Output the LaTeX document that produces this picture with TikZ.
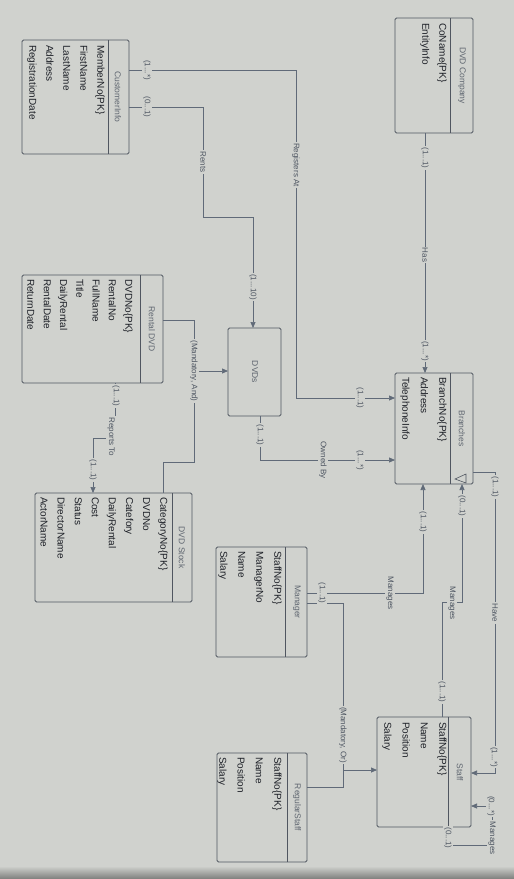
\documentclass[tikz,border=0pt]{standalone}
\usepackage{fontspec}
\setmainfont{Liberation Sans}
\usetikzlibrary{arrows.meta}
\definecolor{bg}{RGB}{208,210,206}
\definecolor{boxc}{RGB}{80,86,96}
\definecolor{linec}{RGB}{96,106,120}
\definecolor{txt}{RGB}{30,33,40}
\definecolor{hdr}{RGB}{95,102,112}
\definecolor{lbl}{RGB}{78,86,98}
\begin{document}
\begin{tikzpicture}[x=1pt,y=-1pt,
  ent/.style={draw=boxc,line width=0.8pt,rounded corners=1.5pt,anchor=north west,inner sep=0pt,outer sep=0pt},
  attr/.style={rotate=-90,anchor=west,inner sep=0pt,text=txt,font=\fontsize{10}{12}\selectfont,text height=7.5pt,text depth=2pt},
  hd/.style={rotate=-90,inner sep=0pt,text=hdr,font=\fontsize{8.5}{10}\selectfont},
  lab/.style={rotate=-90,fill=bg,inner sep=1.2pt,text=lbl,font=\fontsize{8}{9}\selectfont},
  conn/.style={draw=linec,line width=0.7pt},
  arr/.style={conn,-{Triangle[length=6pt,width=5pt]}},
  div/.style={draw=boxc,line width=0.7pt}
]
\useasboundingbox (0,0) rectangle (514,879);
\fill[bg] (0,0) rectangle (514,879);
\shade[top color=bg,bottom color=bg!60!black] (0,866) rectangle (514,879);

% ---------- entities ----------
\node[ent,minimum width=78pt,minimum height=115pt] (company) at (395,18) {};
\draw[div] (company.north -| 450,0) -- (company.south -| 450,0);
\node[hd] (company-h) at (462,75.5) {DVD Company};
\foreach \t [count=\i from 0] in {CoName\{PK\},EntityInfo}
  \node[attr] (company-a\i) at ({442-17*\i},23) {\t};

\node[ent,minimum width=78pt,minimum height=111pt] (branch) at (395,373) {};
\draw[div] (branch.north -| 450,0) -- (branch.south -| 450,0);
\node[hd] (branch-h) at (462,428.5) {Branches};
\foreach \t [count=\i from 0] in {BranchNo\{PK\},Address,TelephoneInfo}
  \node[attr] (branch-a\i) at ({442-18.5*\i},377) {\t};
\draw[boxc,line width=0.6pt] (455,479) -- (466,474) -- (466,483) -- cycle;

\node[ent,minimum width=94pt,minimum height=110pt] (staff) at (377,717) {};
\draw[div] (staff.north -| 448,0) -- (staff.south -| 448,0);
\node[hd] (staff-h) at (460,772) {Staff};
\foreach \t [count=\i from 0] in {StaffNo\{PK\},Name,Position,Salary}
  \node[attr] (staff-a\i) at ({442-18.3*\i},722) {\t};

\node[ent,minimum width=91pt,minimum height=110pt] (manager) at (216,547) {};
\draw[div] (manager.north -| 285,0) -- (manager.south -| 285,0);
\node[hd] (manager-h) at (297,602) {Manager};
\foreach \t [count=\i from 0] in {StaffNo\{PK\},ManagerNo,Name,Salary}
  \node[attr] (manager-a\i) at ({277-18*\i},551) {\t};

\node[ent,minimum width=90pt,minimum height=109pt] (regular) at (217,753) {};
\draw[div] (regular.north -| 287,0) -- (regular.south -| 287,0);
\node[hd] (regular-h) at (297,807.5) {RegularStaff};
\foreach \t [count=\i from 0] in {StaffNo\{PK\},Name,Position,Salary}
  \node[attr] (regular-a\i) at ({277-18.3*\i},757) {\t};

\node[ent,minimum width=53pt,minimum height=88pt] (dvds) at (228,328) {};
\node[hd] (dvds-h) at (255,372) {DVDs};

\node[ent,minimum width=107pt,minimum height=114pt] (customer) at (22,40) {};
\draw[div] (customer.north -| 108,0) -- (customer.south -| 108,0);
\node[hd] (customer-h) at (118,97) {CustomerInfo};
\foreach \t [count=\i from 0] in {MemberNo\{PK\},FirstName,LastName,Address,RegistrationDate}
  \node[attr] (customer-a\i) at ({100-17*\i},45) {\t};

\node[ent,minimum width=141pt,minimum height=108pt] (rental) at (22,275) {};
\draw[div] (rental.north -| 140,0) -- (rental.south -| 140,0);
\node[hd] (rental-h) at (152,329) {Rental DVD};
\foreach \t [count=\i from 0] in {DVDNo\{PK\},RentalNo,FullName,Title,DailyRental,RentalDate,ReturnDate}
  \node[attr] (rental-a\i) at ({128-16.3*\i},279) {\t};

\node[ent,minimum width=157pt,minimum height=109pt] (stock) at (35,493) {};
\draw[div] (stock.north -| 172,0) -- (stock.south -| 172,0);
\node[hd] (stock-h) at (182,547.5) {DVD Stock};
\foreach \t [count=\i from 0] in {CategoryNo\{PK\},DVDNo,Catefory,DailyRental,Cost,Status,DirectorName,ActorName}
  \node[attr] (stock-a\i) at ({163-17.1*\i},497) {\t};

% ---------- connectors ----------
% Has
\draw[arr] (company.south -| 425,0) -- (branch.north -| 425,0);
% Registers At
\draw[arr] (customer.east |- 0,70) -| (296,398) -- (branch.west |- 0,398);
% Rents
\draw[arr] (customer.east |- 0,107) -| (203,217) -| (dvds.north -| 253,0);
% Owned By
\draw[arr] (dvds.south -| 260,0) |- (branch.west |- 0,460);
% Mandatory, And
\draw[conn] (rental.east |- 0,320) -| (194,462) -| (stock.north -| 163,0);
\coordinate (mand) at (194,371);
\draw[arr] (mand) -- (dvds.west |- mand);
% Reports To
\draw[arr] (rental.south -| 115,0) |- (93,438) -- (stock.north -| 93,0);
% Manages (Manager - Branches)
\draw[arr] (manager.east |- 0,593) -| (branch.south -| 423,0);
% Manages (Staff - Branches)
\draw[arr] (staff.north -| 442,0) |- (462,602) -- (branch.south -| 462,0);
% Have
\draw[arr] (branch.east |- 0,472) -| (495,773) -- (staff.east |- 0,773);
% Manages (Staff - Staff)
\draw[arr] (staff.south -| 448,0) |- (492,845) |- (staff.east |- 0,806);
% Mandatory, Or
\draw[conn] (manager.east |- 0,603) -| (343,787) -- (regular.east |- 0,787);
\coordinate (mor) at (343,770);
\draw[arr] (mor) -- (staff.west |- mor);

% ---------- labels ----------
\node[lab] (l1) at (425,158) {(1...1)};
\node[lab] (l2) at (425,255) {Has};
\node[lab] (l3) at (425,351) {(1...*)};
\node[lab] (l4) at (147,70) {(1...*)};
\node[lab] (l5) at (296,165) {Registers At};
\node[lab] (l6) at (360,398) {(1...1)};
\node[lab] (l7) at (147,107) {(0...1)};
\node[lab] (l8) at (203,162) {Rents};
\node[lab] (l9) at (253,287) {(1...10)};
\node[lab] (l10) at (260,435) {(1...1)};
\node[lab] (l11) at (323,460) {Owned By};
\node[lab] (l12) at (360,460) {(1...*)};
\node[lab] (l13) at (194,371) {(Mandatory, And)};
\node[lab] (l14) at (116,396) {(1...1)};
\node[lab] (l15) at (111,437) {Reports To};
\node[lab] (l16) at (93,470) {(1...1)};
\node[lab] (l17) at (322,593) {(1...1)};
\node[lab] (l18) at (390,593) {Manages};
\node[lab] (l19) at (423,522) {(1...1)};
\node[lab] (l20) at (462,506) {(0...1)};
\node[lab] (l21) at (452,603) {Manages};
\node[lab] (l22) at (442,692) {(1...1)};
\node[lab] (l23) at (495,487) {(1...1)};
\node[lab] (l24) at (495,613) {Have};
\node[lab] (l25) at (494,757) {(1...*)};
\node[lab] (l26) at (448,838) {(0...1)};
\node[lab] (l27) at (491,806) {(0...*)};
\node[lab] (l28) at (492,838) {Manages};
\node[lab] (l29) at (343,735) {(Mandatory, Or)};
\end{tikzpicture}
\end{document}
